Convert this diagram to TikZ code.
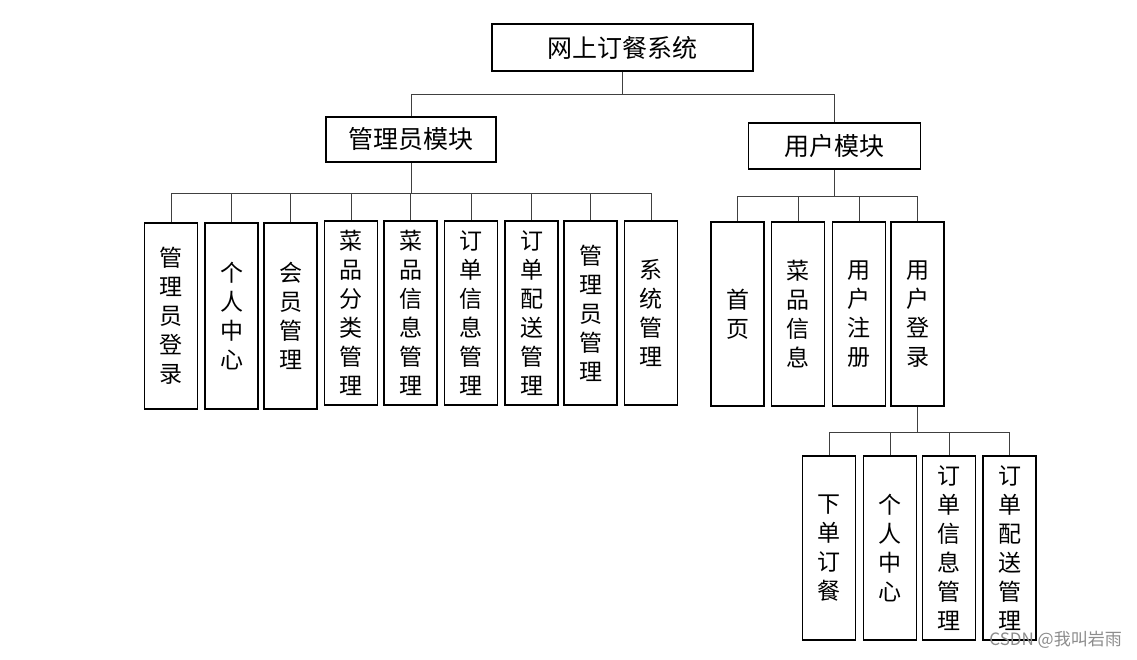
\documentclass[tikz,border=0pt]{standalone}
\usepackage{fontspec}
\newfontfamily\cjk{Noto Sans CJK SC}
\begin{document}
\begin{tikzpicture}[x=1pt,y=-1pt,
  box/.style={draw=black, line width=1.7pt, rectangle, inner sep=0pt, align=center,
     font=\cjk\fontsize{23}{29}\selectfont},
  hbox/.style={box, font=\cjk\fontsize{25}{29}\selectfont},
  vbox/.style={box, minimum width=53pt, minimum height=184pt},
  conn/.style={draw=black!75, line width=1pt}]
\useasboundingbox (0,0) rectangle (1137,660);
\fill[white] (0,0) rectangle (1137,660);
% root and modules
\node[hbox, minimum width=261pt, minimum height=47pt] (root) at (622.5,47.5) {网上订餐系统};
\node[hbox, minimum width=170pt, minimum height=45pt] (admin) at (411,139.5) {管理员模块};
\node[hbox, minimum width=172pt, minimum height=46pt] (user) at (834.5,146) {用户模块};
% admin children
\node[vbox, minimum height=186pt] (a1) at (171,316) {管\\理\\员\\登\\录};
\node[vbox, minimum height=186pt] (a2) at (231.5,316) {个\\人\\中\\心};
\node[vbox, minimum height=186pt] (a3) at (290.5,316) {会\\员\\管\\理};
\node[vbox] (a4) at (351,313) {菜\\品\\分\\类\\管\\理};
\node[vbox] (a5) at (410.5,313) {菜\\品\\信\\息\\管\\理};
\node[vbox] (a6) at (471,313) {订\\单\\信\\息\\管\\理};
\node[vbox] (a7) at (531.5,313) {订\\单\\配\\送\\管\\理};
\node[vbox] (a8) at (590.5,313) {管\\理\\员\\管\\理};
\node[vbox] (a9) at (651,313) {系\\统\\管\\理};
% user children
\node[vbox] (u1) at (737.5,314) {首\\页};
\node[vbox] (u2) at (798,314) {菜\\品\\信\\息};
\node[vbox] (u3) at (859,314) {用\\户\\注\\册};
\node[vbox] (u4) at (917.5,314) {用\\户\\登\\录};
% login children
\node[vbox] (s1) at (829,548) {下\\单\\订\\餐};
\node[vbox] (s2) at (890,548) {个\\人\\中\\心};
\node[vbox] (s3) at (949,548) {订\\单\\信\\息\\管\\理};
\node[vbox] (s4) at (1009.5,548) {订\\单\\配\\送\\管\\理};
% buses
\coordinate (b0) at (622.5,95);
\coordinate (b1) at (411,194);
\coordinate (b2) at (834.5,197);
\coordinate (b3) at (917.5,432);
\draw[conn] (root.south) -- (b0);
\draw[conn] (admin.north) |- (b0);
\draw[conn] (user.north) |- (b0);
\draw[conn] (admin.south) -- (b1);
\foreach \n in {a1,a2,a3,a4,a5,a6,a7,a8,a9}{\draw[conn] (\n.north) |- (b1);}
\draw[conn] (user.south) -- (b2);
\foreach \n in {u1,u2,u3,u4}{\draw[conn] (\n.north) |- (b2);}
\draw[conn] (u4.south) -- (b3);
\foreach \n in {s1,s2,s3,s4}{\draw[conn] (\n.north) |- (b3);}
% watermark
\node[text=black!45, font=\cjk\fontsize{17}{20}\selectfont, anchor=east, inner sep=0pt] (wm) at (1122,640) {CSDN @我叫岩雨};
\end{tikzpicture}
\end{document}
